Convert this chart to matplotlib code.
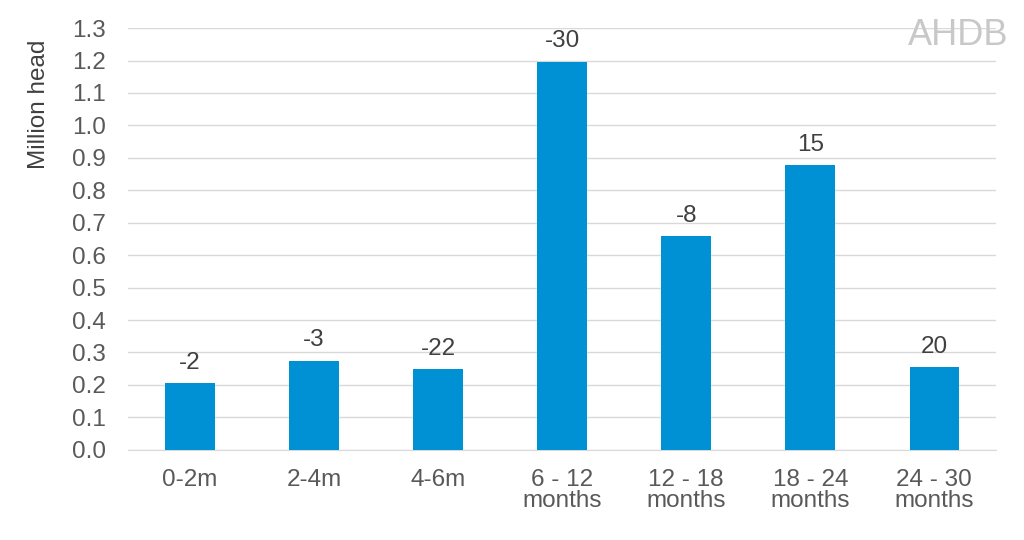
import matplotlib
matplotlib.use("Agg")
import matplotlib.pyplot as plt
import numpy as np

categories = ["0-2m", "2-4m", "4-6m", "6 - 12\nmonths", "12 - 18\nmonths", "18 - 24\nmonths", "24 - 30\nmonths"]
values = [0.205, 0.275, 0.248, 1.195, 0.658, 0.877, 0.254]
labels = ["-2", "-3", "-22", "-30", "-8", "15", "20"]

plt.rcParams['font.family'] = ['Liberation Sans', 'DejaVu Sans']
fig = plt.figure(figsize=(10.24, 5.4), dpi=100)
ax = fig.add_axes([0.125, 0.167, 0.848, 0.781])
x = np.arange(len(categories))
ax.bar(x, values, width=0.4, color="#0090d4", zorder=3)
for xi, v, l in zip(x, values, labels):
    ax.text(xi, v + 0.03, l, ha="center", va="bottom", fontsize=17.5, color="#404040")
ax.set_xlim(-0.5, len(categories) - 0.5)
ax.set_ylim(0, 1.3)
ticks = np.arange(0, 1.31, 0.1)
ax.set_yticks(ticks)
ax.set_yticklabels([f"{t:.1f}" for t in ticks])
ax.set_xticks(x)
ax.set_xticklabels(categories, linespacing=0.95)
ax.tick_params(axis="both", labelsize=17.5, colors="#595959", length=0)
ax.tick_params(axis="x", pad=14)
ax.tick_params(axis="y", pad=16)
ax.grid(axis="y", color="#d9d9d9", linewidth=1, zorder=0)
for s in ["top", "right", "left"]:
    ax.spines[s].set_visible(False)
ax.spines["bottom"].set_color("#d9d9d9")
ax.set_ylabel("Million head", fontsize=17.5, color="#404040", labelpad=8)
ax.yaxis.set_label_coords(-0.09, 0.82)
fig.text(0.985, 0.935, "AHDB", ha="right", va="center", fontsize=26, color="#c8c8c8")
fig.savefig("out.png", dpi=100)
